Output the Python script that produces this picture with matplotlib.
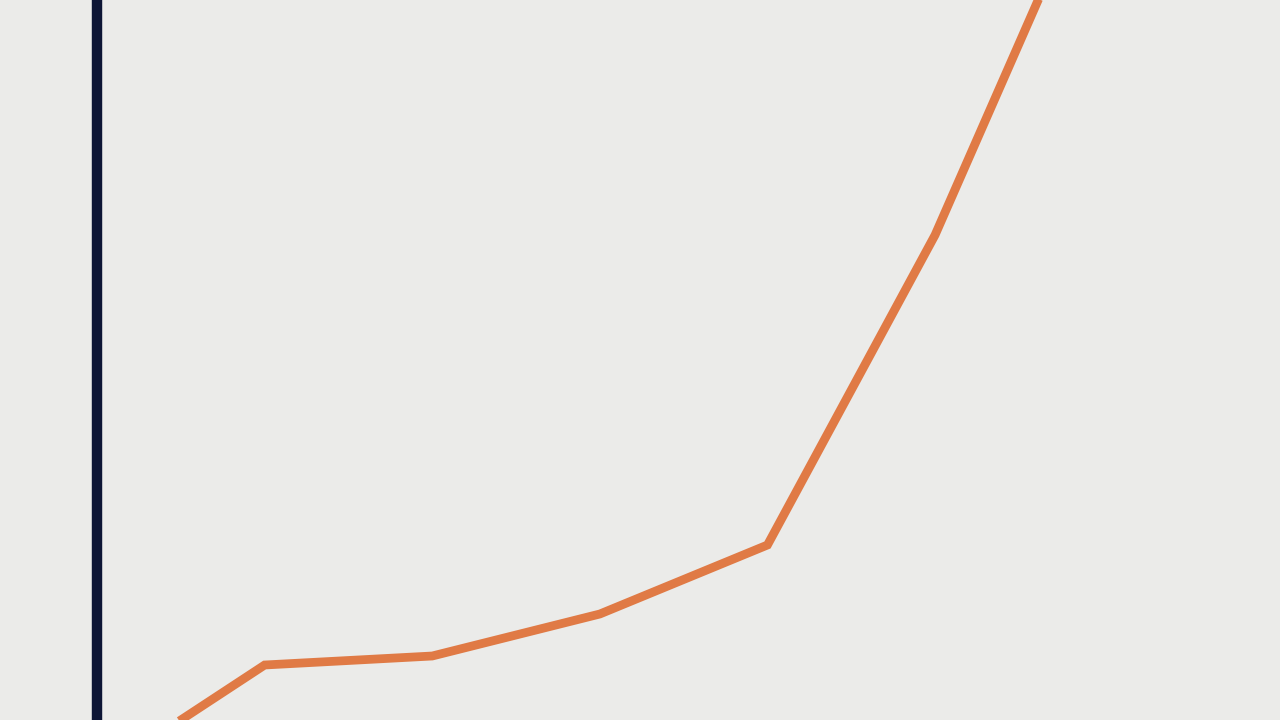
import matplotlib
matplotlib.use("Agg")
import matplotlib.pyplot as plt

# Data
periods = [0, 1, 2, 3, 4, 5, 6]
values = [2, 112, 121, 163, 232, 542, 924]

BG = "#EBEBE9"
ORANGE = "#E07A45"
NAVY = "#0D1535"

fig = plt.figure(figsize=(12.8, 7.2), dpi=100, facecolor=BG)
ax = fig.add_axes([0, 0, 1, 1], facecolor=BG)

ax.plot(periods, values, color=ORANGE, linewidth=6.3, solid_joinstyle="miter",
        solid_capstyle="butt")
ax.axvline(0, color=NAVY, linewidth=7.5)

ax.set_xlim(-0.579, 7.058)
ax.set_ylim(57, 777)
ax.axis("off")

fig.savefig("out.png", dpi=100, facecolor=BG)
